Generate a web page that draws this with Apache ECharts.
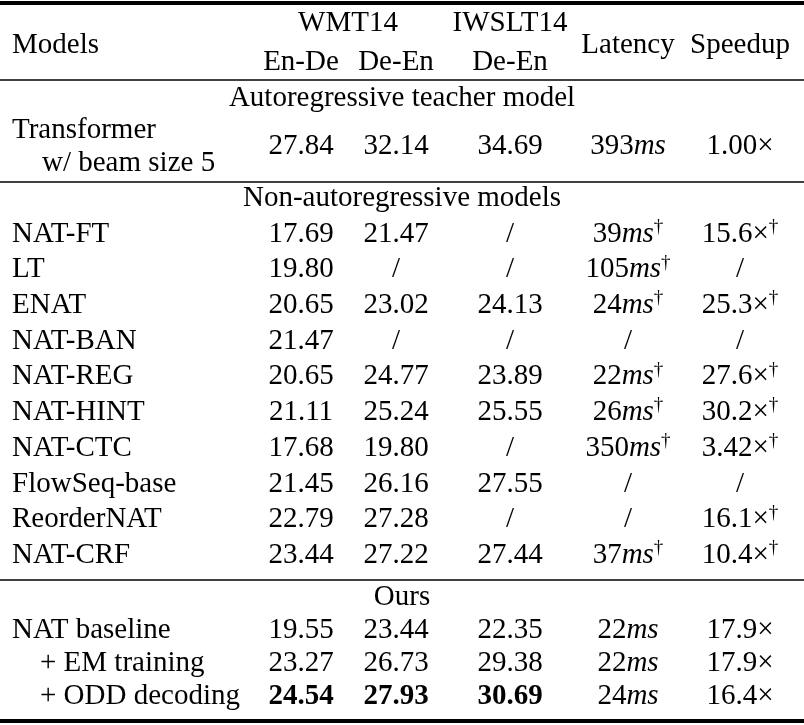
<!DOCTYPE html>
<html>
<head>
<meta charset="utf-8">
<script src="https://cdn.jsdelivr.net/npm/echarts@6/dist/echarts.min.js"></script>
<style>
  html, body { margin: 0; padding: 0; background: #fff; }
  #main { width: 804px; height: 725px; }
</style>
</head>
<body>
<div id="main"></div>
<script>
// table data
var models   = ['NAT-FT', 'LT', 'ENAT', 'NAT-BAN', 'NAT-REG', 'NAT-HINT', 'NAT-CTC', 'FlowSeq-base', 'ReorderNAT', 'NAT-CRF'];
var enDe     = ['17.69', '19.80', '20.65', '21.47', '20.65', '21.11', '17.68', '21.45', '22.79', '23.44'];
var deEn     = ['21.47', '/', '23.02', '/', '24.77', '25.24', '19.80', '26.16', '27.28', '27.22'];
var iwslt    = ['/', '/', '24.13', '/', '23.89', '25.55', '/', '27.55', '/', '27.44'];
var latency  = ['39', '105', '24', '/', '22', '26', '350', '/', '/', '37'];
var speedup  = ['15.6', '/', '25.3', '/', '27.6', '30.2', '3.42', '/', '16.1', '10.4'];

var oursModels  = ['NAT baseline', '+ EM training', '+ ODD decoding'];
var oursEnDe    = ['19.55', '23.27', '24.54'];
var oursDeEn    = ['23.44', '26.73', '27.93'];
var oursIwslt   = ['22.35', '29.38', '30.69'];
var oursLatency = ['22', '22', '24'];
var oursSpeedup = ['17.9', '17.9', '16.4'];
var oursBold    = [false, false, true];

var teacher = ['27.84', '32.14', '34.69', '393', '1.00'];

var FONT = '"Liberation Serif", "DejaVu Serif", serif';
var FS = 29;
var colX = [301, 396, 510, 628, 740];

var els = [];

function txt(x, y, s, align, bold) {
    els.push({
        type: 'text', x: x, y: y,
        style: {
            text: s, font: (bold ? 'bold ' : '') + FS + 'px ' + FONT,
            fill: '#000', textAlign: align || 'center', textVerticalAlign: 'middle'
        }
    });
}

function rich(x, y, s) {
    els.push({
        type: 'text', x: x, y: y,
        style: {
            text: s, textAlign: 'center', textVerticalAlign: 'middle',
            font: FS + 'px ' + FONT, fill: '#000',
            rich: {
                i: {font: 'italic ' + FS + 'px ' + FONT, fill: '#000'},
                d: {font: '19px ' + FONT, fill: '#000', verticalAlign: 'top', padding: [0, 0, 14, 0]}
            }
        }
    });
}

function hline(y, w) {
    els.push({type: 'line', shape: {x1: 0, y1: y, x2: 804, y2: y}, style: {stroke: '#000', lineWidth: w}});
}

function lat(v, dag) {
    if (v === '/') return '/';
    return v + '{i|ms}' + (dag ? '{d|†}' : '');
}
function spd(v, dag) {
    if (v === '/') return '/';
    return v + '×' + (dag ? '{d|†}' : '');
}

// rules
hline(3, 4);
hline(80, 1.5);
hline(182, 1.5);
hline(580, 1.5);
hline(721, 4);

// header
txt(12, 45, 'Models', 'left');
txt(348, 23, 'WMT14');
txt(colX[0], 62, 'En-De');
txt(colX[1], 62, 'De-En');
txt(colX[2], 23, 'IWSLT14');
txt(colX[2], 62, 'De-En');
txt(colX[3], 45, 'Latency');
txt(colX[4], 45, 'Speedup');

// teacher
txt(402, 98, 'Autoregressive teacher model');
txt(12, 130, 'Transformer', 'left');
txt(42, 163, 'w/ beam size 5', 'left');
txt(colX[0], 146, teacher[0]);
txt(colX[1], 146, teacher[1]);
txt(colX[2], 146, teacher[2]);
rich(colX[3], 146, lat(teacher[3], false));
rich(colX[4], 146, spd(teacher[4], false));

// non-autoregressive
txt(402, 198, 'Non-autoregressive models');
models.forEach(function (m, i) {
    var y = 234 + i * 35.7;
    txt(12, y, m, 'left');
    txt(colX[0], y, enDe[i]);
    txt(colX[1], y, deEn[i]);
    txt(colX[2], y, iwslt[i]);
    rich(colX[3], y, lat(latency[i], true));
    rich(colX[4], y, spd(speedup[i], true));
});

// ours
txt(402, 597, 'Ours');
oursModels.forEach(function (m, i) {
    var y = 630 + i * 33.3;
    var b = oursBold[i];
    txt(i === 0 ? 12 : 40, y, m, 'left');
    txt(colX[0], y, oursEnDe[i], 'center', b);
    txt(colX[1], y, oursDeEn[i], 'center', b);
    txt(colX[2], y, oursIwslt[i], 'center', b);
    rich(colX[3], y, lat(oursLatency[i], false));
    rich(colX[4], y, spd(oursSpeedup[i], false));
});

var chart = echarts.init(document.getElementById('main'));
chart.setOption({
    backgroundColor: '#fff',
    animation: false,
    graphic: {elements: els}
});
</script>
</body>
</html>
